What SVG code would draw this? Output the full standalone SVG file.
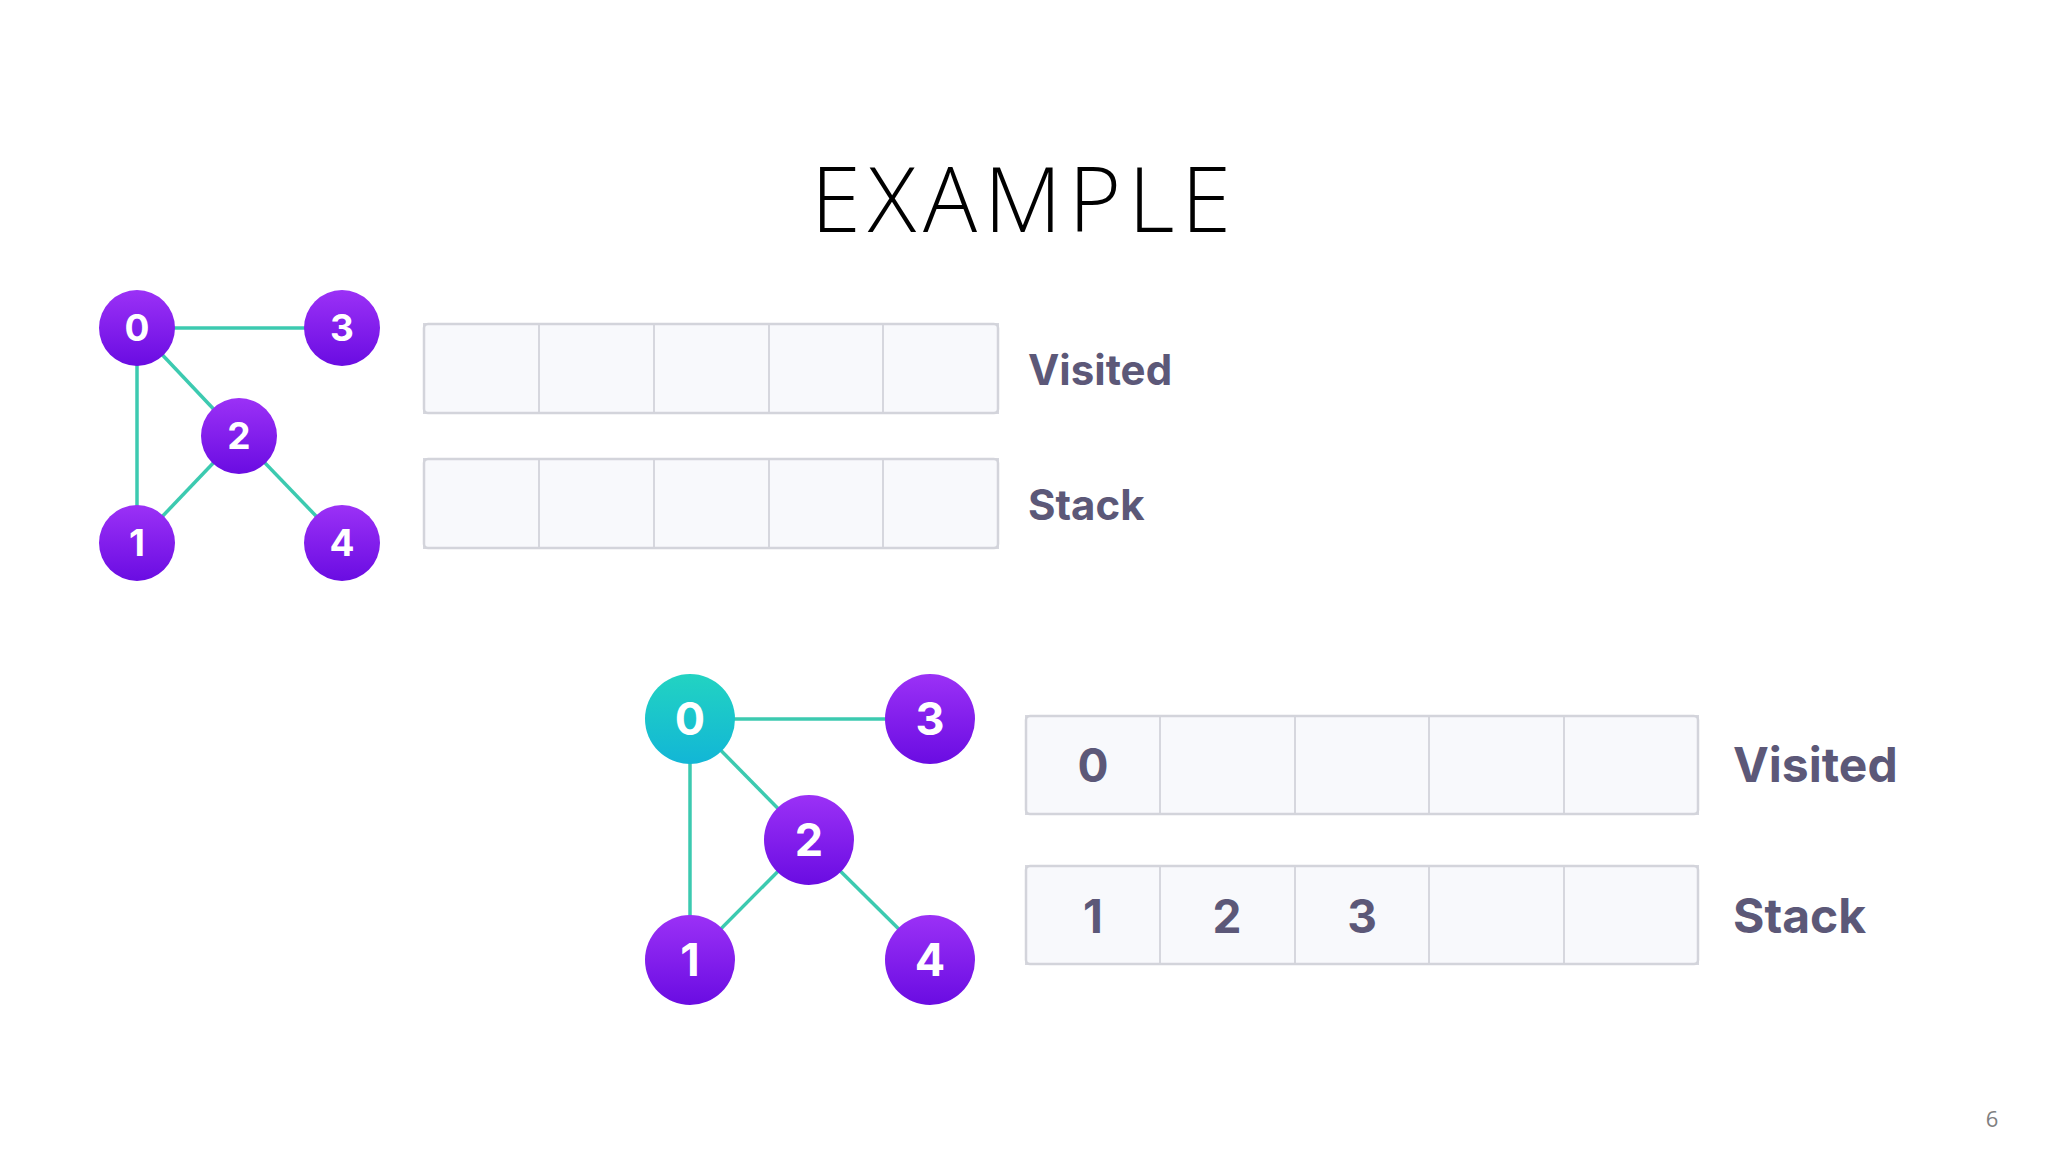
<svg xmlns="http://www.w3.org/2000/svg" width="2048" height="1152" viewBox="0 0 2048 1152">
<style>
.edge{stroke:#3ccab0;stroke-width:3.5;fill:none}
.cell{fill:#f8f9fc;stroke:#d6d7de;stroke-width:2}
.frame{fill:none;stroke:#d3d4db;stroke-width:2.5}
.nlab{font-family:Inter,"Open Sans",sans-serif;font-weight:700;fill:#ffffff;text-anchor:middle}
.lab{font-family:Inter,"Open Sans",sans-serif;font-weight:700;fill:#5c5878}
.val{font-family:Inter,"Open Sans",sans-serif;font-weight:700;fill:#5c5878;text-anchor:middle}
</style>
<defs>
<linearGradient id="gp" x1="0" y1="0" x2="0" y2="1">
<stop offset="0" stop-color="#9b31f6"/>
<stop offset="1" stop-color="#6a0ce2"/>
</linearGradient>
<linearGradient id="gt" x1="0" y1="0" x2="0" y2="1">
<stop offset="0" stop-color="#22d3c2"/>
<stop offset="1" stop-color="#12b6d6"/>
</linearGradient>
</defs>
<rect width="2048" height="1152" fill="#ffffff"/>
<text x="1021" y="232" font-family="'Open Sans','Liberation Sans',sans-serif" font-weight="300" font-size="90" text-anchor="middle" textLength="420" lengthAdjust="spacing" fill="#000000">EXAMPLE</text>

<g id="connectors">
<line class="edge" x1="137" y1="328" x2="342" y2="328"/>
<line class="edge" x1="137" y1="328" x2="137" y2="543"/>
<line class="edge" x1="137" y1="328" x2="239" y2="436"/>
<line class="edge" x1="239" y1="436" x2="137" y2="543"/>
<line class="edge" x1="239" y1="436" x2="342" y2="543"/>
<line class="edge" x1="690" y1="719" x2="930" y2="719"/>
<line class="edge" x1="690" y1="719" x2="690" y2="960"/>
<line class="edge" x1="690" y1="719" x2="809" y2="840"/>
<line class="edge" x1="809" y1="840" x2="690" y2="960"/>
<line class="edge" x1="809" y1="840" x2="930" y2="960"/>
</g>

<g id="g1-node0"><circle cx="137" cy="328" r="38" fill="url(#gp)"/><text class="nlab" x="137" y="341" font-size="37">0</text></g>
<g id="g1-node3"><circle cx="342" cy="328" r="38" fill="url(#gp)"/><text class="nlab" x="342" y="341" font-size="37">3</text></g>
<g id="g1-node2"><circle cx="239" cy="436" r="38" fill="url(#gp)"/><text class="nlab" x="239" y="449" font-size="37">2</text></g>
<g id="g1-node1"><circle cx="137" cy="543" r="38" fill="url(#gp)"/><text class="nlab" x="137" y="556" font-size="37">1</text></g>
<g id="g1-node4"><circle cx="342" cy="543" r="38" fill="url(#gp)"/><text class="nlab" x="342" y="556" font-size="37">4</text></g>

<g id="g1-visited">
<rect class="cell" x="424" y="324" width="115" height="89"/>
<rect class="cell" x="539" y="324" width="115" height="89"/>
<rect class="cell" x="654" y="324" width="115" height="89"/>
<rect class="cell" x="769" y="324" width="114" height="89"/>
<rect class="cell" x="883" y="324" width="115" height="89"/>
<rect class="frame" x="424" y="324" width="574" height="89" rx="4"/>
<text class="lab" x="1028" y="385" font-size="42">Visited</text>
</g>
<g id="g1-stack">
<rect class="cell" x="424" y="459" width="115" height="89"/>
<rect class="cell" x="539" y="459" width="115" height="89"/>
<rect class="cell" x="654" y="459" width="115" height="89"/>
<rect class="cell" x="769" y="459" width="114" height="89"/>
<rect class="cell" x="883" y="459" width="115" height="89"/>
<rect class="frame" x="424" y="459" width="574" height="89" rx="4"/>
<text class="lab" x="1028" y="520" font-size="42">Stack</text>
</g>

<g id="g2-node0"><circle cx="690" cy="719" r="45" fill="url(#gt)"/><text class="nlab" x="690" y="735" font-size="45">0</text></g>
<g id="g2-node3"><circle cx="930" cy="719" r="45" fill="url(#gp)"/><text class="nlab" x="930" y="735" font-size="45">3</text></g>
<g id="g2-node2"><circle cx="809" cy="840" r="45" fill="url(#gp)"/><text class="nlab" x="809" y="856" font-size="45">2</text></g>
<g id="g2-node1"><circle cx="690" cy="960" r="45" fill="url(#gp)"/><text class="nlab" x="690" y="976" font-size="45">1</text></g>
<g id="g2-node4"><circle cx="930" cy="960" r="45" fill="url(#gp)"/><text class="nlab" x="930" y="976" font-size="45">4</text></g>

<g id="g2-visited">
<rect class="cell" x="1026" y="716" width="134" height="98"/>
<rect class="cell" x="1160" y="716" width="135" height="98"/>
<rect class="cell" x="1295" y="716" width="134" height="98"/>
<rect class="cell" x="1429" y="716" width="135" height="98"/>
<rect class="cell" x="1564" y="716" width="134" height="98"/>
<rect class="frame" x="1026" y="716" width="672" height="98" rx="4"/>
<text class="val" x="1093" y="782" font-size="46">0</text>
<text class="lab" x="1733" y="782" font-size="48">Visited</text>
</g>
<g id="g2-stack">
<rect class="cell" x="1026" y="866" width="134" height="98"/>
<rect class="cell" x="1160" y="866" width="135" height="98"/>
<rect class="cell" x="1295" y="866" width="134" height="98"/>
<rect class="cell" x="1429" y="866" width="135" height="98"/>
<rect class="cell" x="1564" y="866" width="134" height="98"/>
<rect class="frame" x="1026" y="866" width="672" height="98" rx="4"/>
<text class="val" x="1093" y="933" font-size="46">1</text>
<text class="val" x="1227" y="933" font-size="46">2</text>
<text class="val" x="1362" y="933" font-size="46">3</text>
<text class="lab" x="1733" y="933" font-size="48">Stack</text>
</g>

<text x="1992" y="1127" font-family="'Open Sans','Liberation Sans',sans-serif" font-size="22" fill="#808080" text-anchor="middle">6</text>
</svg>
